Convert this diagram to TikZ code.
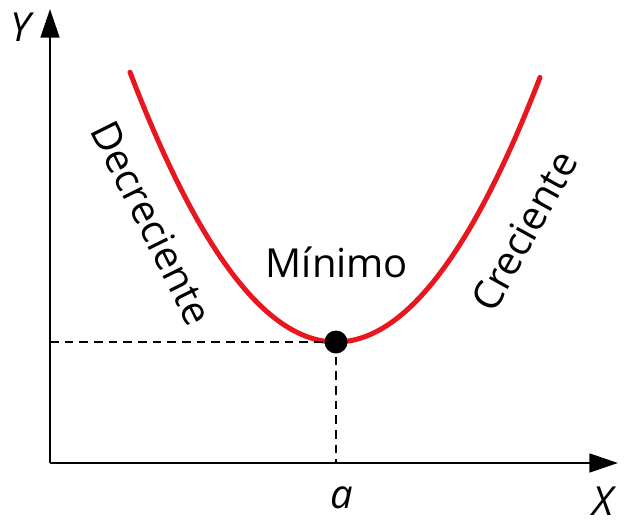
\documentclass[tikz,border=0pt]{standalone}
\usepackage{fontspec}
\setmainfont{Open Sans}
\usetikzlibrary{arrows.meta}

\tikzset{every picture/.style={line width=0.75pt}}
\definecolor{curvered}{RGB}{232,22,30}
\tikzset{
  axisline/.style={line width=2.7pt*0.75, -{Triangle[length=21.5pt,width=14pt]}},
  guideline/.style={line width=1.6pt*0.75, dash pattern=on 6.5pt off 4.5pt},
  axislabel/.style={font=\fontsize{30}{36}\selectfont\itshape},
  curvelabel/.style={font=\fontsize{30}{36}\selectfont}
}

\begin{document}
\begin{tikzpicture}[x=0.75pt,y=0.75pt,yscale=-1,xscale=1]
\useasboundingbox (0,0) rectangle (630,527);

% Axes
\coordinate (origin) at (50,463);
\coordinate (ytop) at (50,9);
\coordinate (xend) at (618,463);
\draw [axisline] (origin) -- (ytop);
\draw [axisline] (origin) -- (xend);

% Curve
\draw [curvered, line width=5pt*0.75, line cap=round]
  plot [domain=-206:204, samples=80, smooth] ({336+\x},{342-(0.07975*\x)*(0.07975*\x)});

% Minimum point
\node (minpt) [circle, fill=black, inner sep=0pt, minimum size=23pt*0.75] at (336,342) {};
\coordinate (yfoot) at (50,342);
\coordinate (xfoot) at (336,463);
\draw [guideline] (yfoot) -- (minpt.center);
\draw [guideline] (minpt.center) -- (xfoot);

% Text Node
\node (ylab) [axislabel] at (21,27) {Y};
% Text Node
\node (xlab) [axislabel] at (603,501) {X};
% Text Node
\node (alab) [axislabel] at (342,498) {a};
% Text Node
\node (minlab) [curvelabel] at (337,262) {Mínimo};
% Text Node
\node (declab) [curvelabel, rotate=-63.5] at (152,223) {Decreciente};
% Text Node
\node (crelab) [curvelabel, rotate=61] at (524,231) {Creciente};

\end{tikzpicture}
\end{document}
